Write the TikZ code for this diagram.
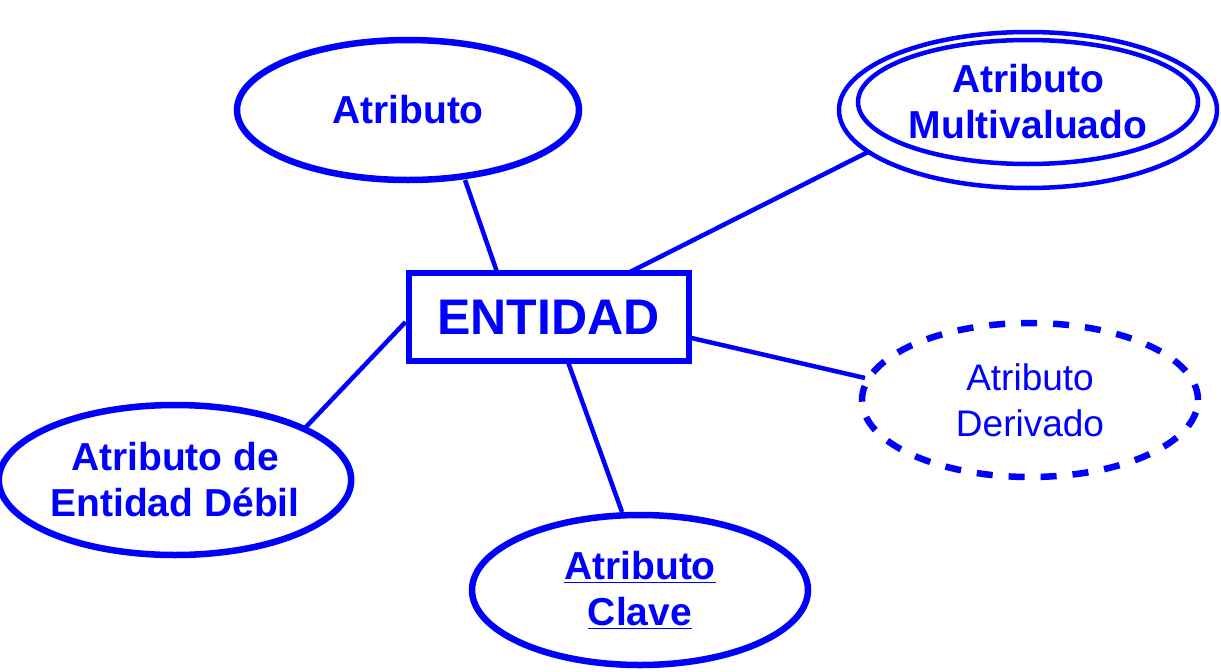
\documentclass[tikz,border=0pt]{standalone}
\usepackage{fontspec}
\setmainfont{Liberation Sans}
\usetikzlibrary{shapes.geometric}
\begin{document}
\begin{tikzpicture}[x=1pt,y=-1pt,
 ell/.style={ellipse,draw=blue,line width=6.5pt,inner sep=0pt,text=blue,font=\bfseries\fontsize{39}{46}\selectfont,align=center},
 lnk/.style={draw=blue,line width=4.5pt}]
\useasboundingbox (0,0) rectangle (1221,672);
\node[draw=blue,line width=6pt,minimum width=280pt,minimum height=88pt,inner sep=0pt,text=blue,font=\bfseries\fontsize{50}{56}\selectfont] (ent) at (548.5,317) {ENTIDAD};
\node[ell,minimum width=342pt,minimum height=140pt] (a) at (408,110) {Atributo};
\node[ell,line width=4.5pt,minimum width=378pt,minimum height=156pt] (m) at (1028,110) {};
\node[ell,line width=4.5pt,minimum width=340pt,minimum height=124pt] (mi) at (1028,102) {Atributo\\Multivaluado};
\node[ell,dashed,dash pattern=on 16pt off 16pt,font=\fontsize{37}{46}\selectfont,minimum width=336pt,minimum height=154pt] (d) at (1030,400) {Atributo\\Derivado};
\node[ell,minimum width=344pt,minimum height=150pt] (w) at (175,480) {Atributo de\\Entidad Débil};
\node[ell,minimum width=336pt,minimum height=150pt,font=\bfseries\fontsize{39}{46}\selectfont] (k) at (640,590) {\underline{Atributo}\\\underline{Clave}};
\coordinate (ea) at (465,180);
\coordinate (em) at (868,152);
\coordinate (ed) at (865,378);
\coordinate (ew) at (305,428);
\coordinate (ek) at (622,512);
\draw[lnk] (497,272) -- (ea);
\draw[lnk] (630,272) -- (em);
\draw[lnk] (ent.east|-0,338) -- (ed);
\draw[lnk] (ent.west|-0,322) -- (ew);
\draw[lnk] (568,362) -- (ek);
\end{tikzpicture}
\end{document}
